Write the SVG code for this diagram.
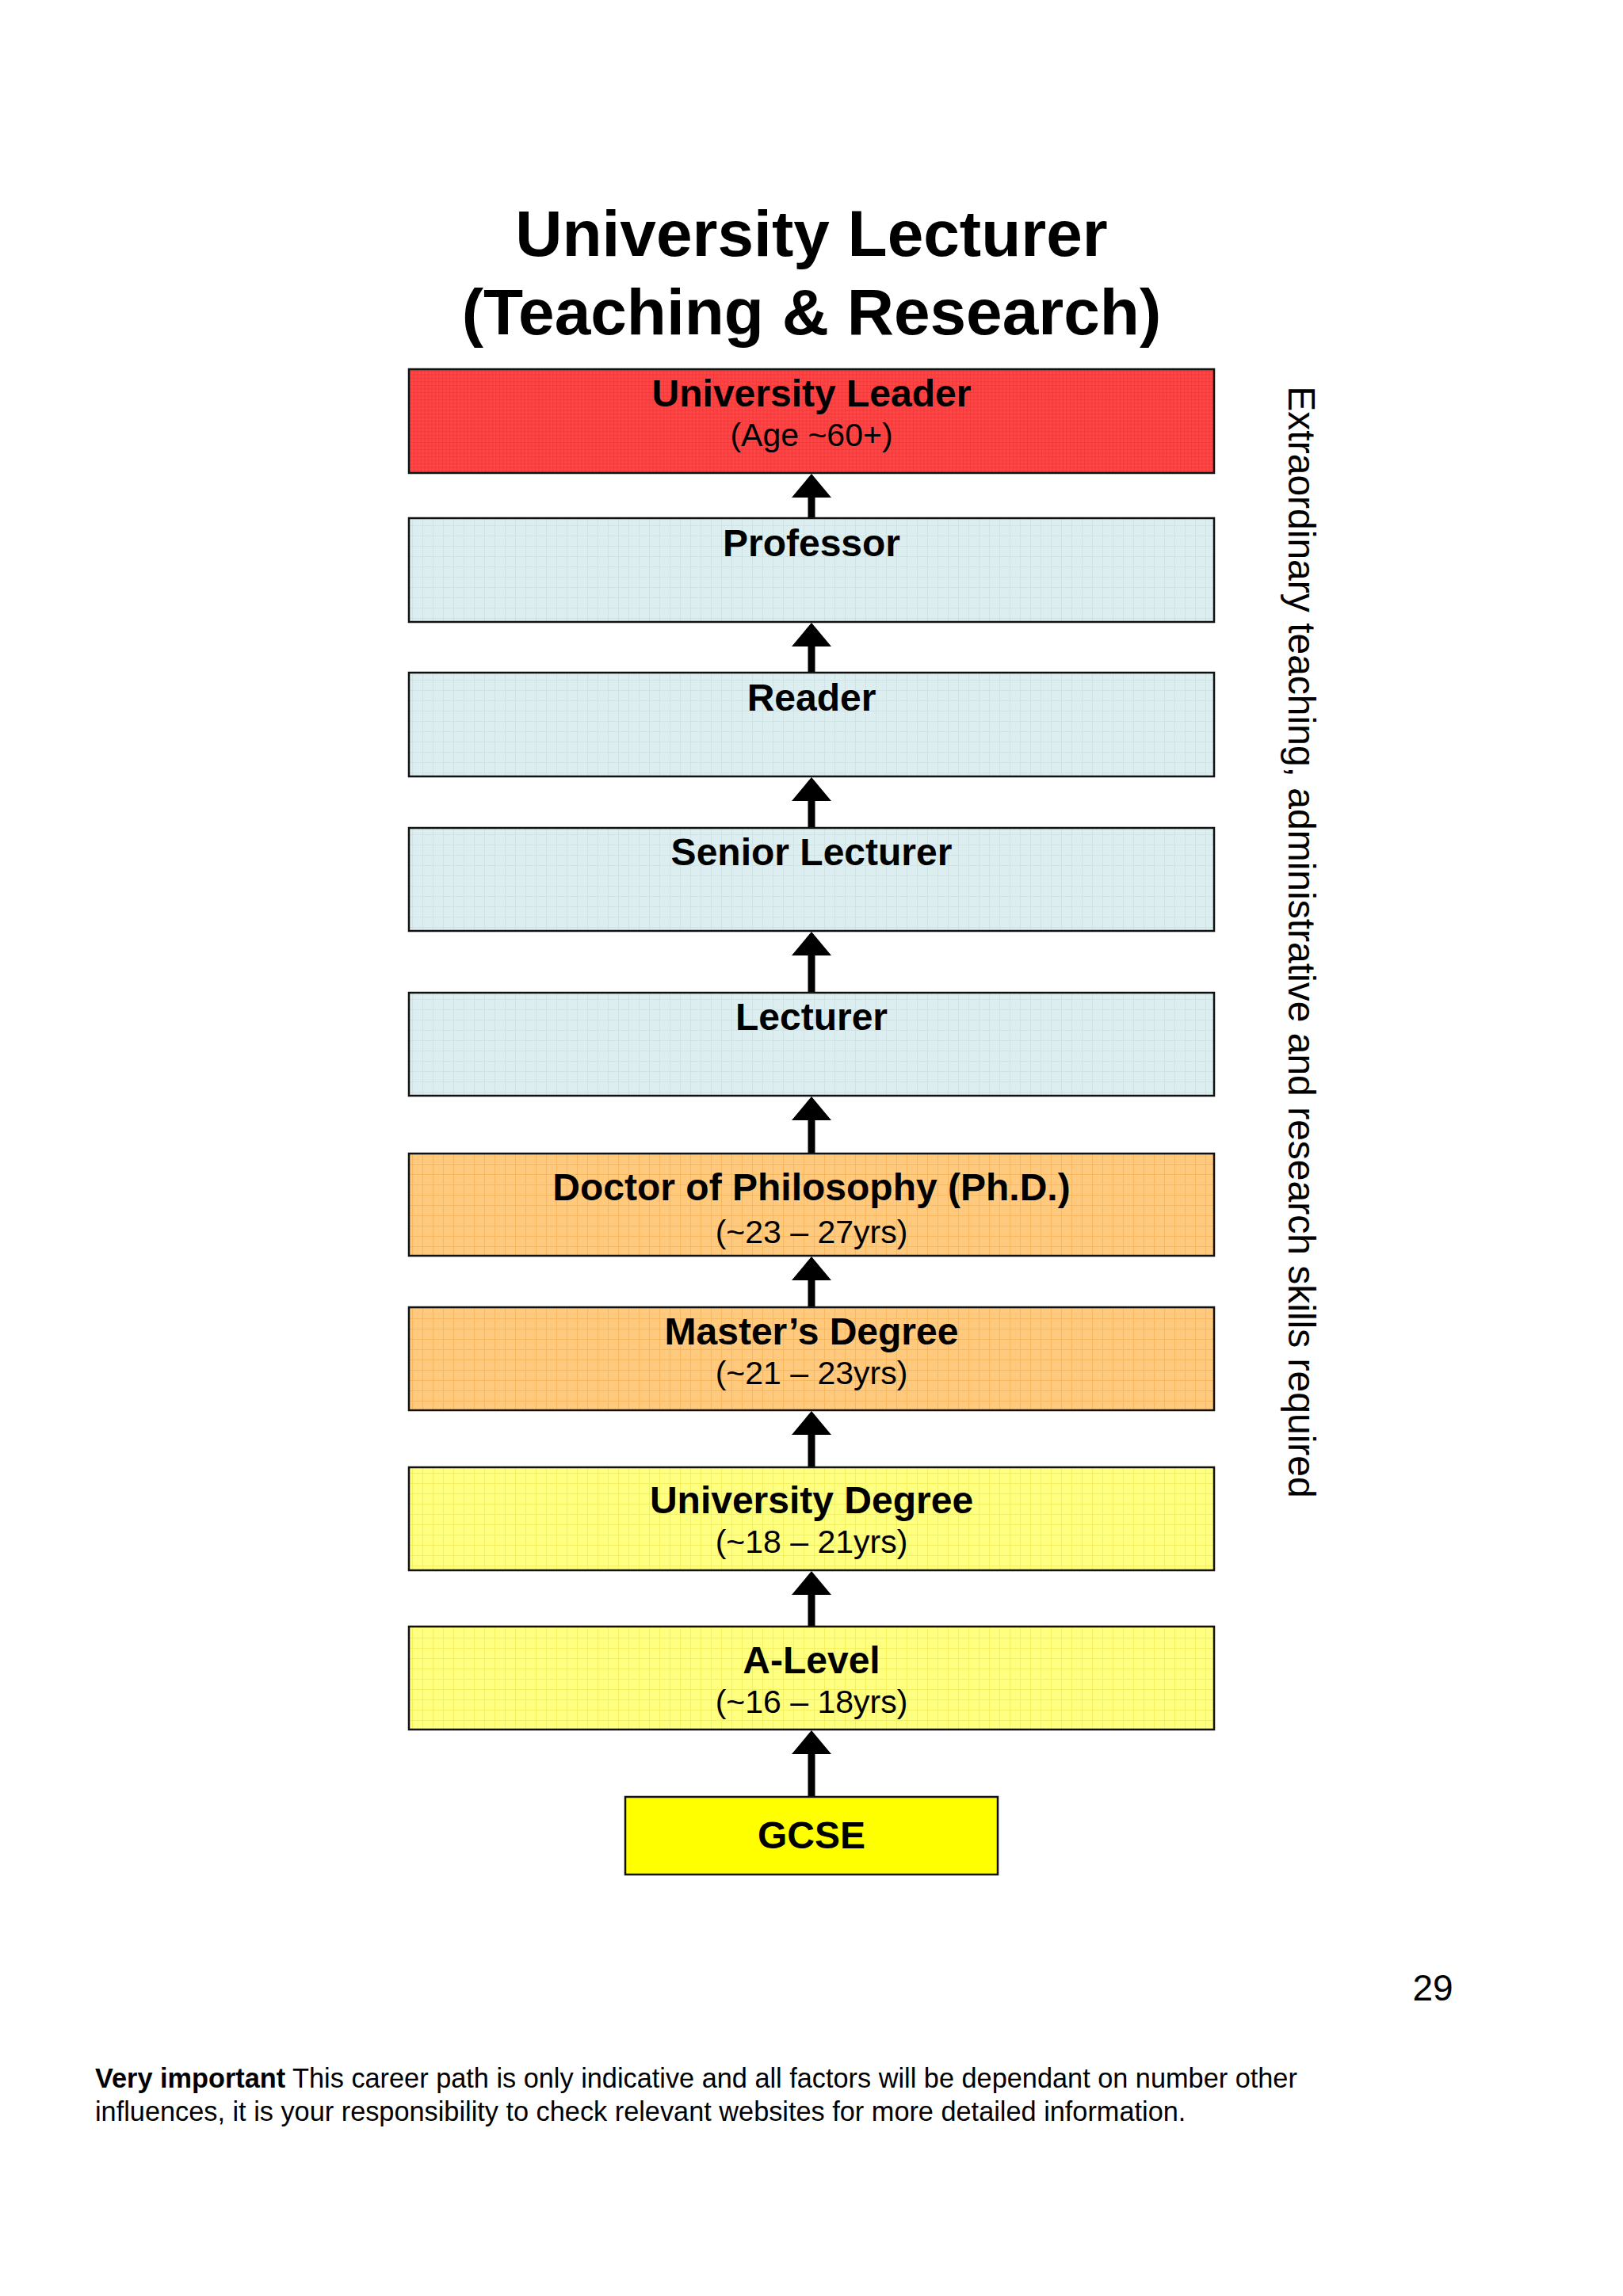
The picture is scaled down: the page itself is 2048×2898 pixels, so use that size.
<svg xmlns="http://www.w3.org/2000/svg" width="2048" height="2898" viewBox="0 0 2048 2898">
<style>
text { font-family: "Liberation Sans", Arial, sans-serif; fill: #000; }
.title { font-size: 82px; font-weight: bold; text-anchor: middle; }
.lbl { font-size: 48px; font-weight: bold; text-anchor: middle; }
.sub { font-size: 41px; text-anchor: middle; }
.box { stroke: #111; stroke-width: 2.5; }
.arrow { fill: #000; stroke: none; }
.side { font-size: 48px; text-anchor: middle; }
.page { font-size: 46px; text-anchor: middle; }
.foot { font-size: 34.3px; }
</style>
<defs>
  <pattern id="gRed" width="4.5" height="4.5" patternUnits="userSpaceOnUse">
    <rect width="4.5" height="4.5" fill="#ff4545"/>
    <path d="M0 0.5H4.5M0.5 0V4.5" stroke="#e62e2e" stroke-width="0.8" opacity="0.6"/>
  </pattern>
  <pattern id="gBlue" width="13" height="13" patternUnits="userSpaceOnUse">
    <rect width="13" height="13" fill="#dceeef"/>
    <path d="M0 0.5H13M0.5 0V13" stroke="#cfe3e5" stroke-width="1"/>
  </pattern>
  <pattern id="gOrange" width="13" height="13" patternUnits="userSpaceOnUse">
    <rect width="13" height="13" fill="#ffca7e"/>
    <path d="M0 0.5H13M0.5 0V13" stroke="#f7b860" stroke-width="1"/>
  </pattern>
  <pattern id="gYellow" width="13" height="13" patternUnits="userSpaceOnUse">
    <rect width="13" height="13" fill="#ffff80"/>
    <path d="M0 0.5H13M0.5 0V13" stroke="#f4f060" stroke-width="1"/>
  </pattern>
</defs>
<rect width="2048" height="2898" fill="#ffffff"/>

<g id="title">
  <text class="title" x="1024" y="323">University Lecturer</text>
  <text class="title" x="1024" y="422">(Teaching &amp; Research)</text>
</g>

<g id="connectors">
  <path class="arrow" d="M1024,598 L1049,628 L1028.5,628 L1028.5,654 L1019.5,654 L1019.5,628 L999,628 Z"/>
  <path class="arrow" d="M1024,786 L1049,816 L1028.5,816 L1028.5,849 L1019.5,849 L1019.5,816 L999,816 Z"/>
  <path class="arrow" d="M1024,981 L1049,1011 L1028.5,1011 L1028.5,1045 L1019.5,1045 L1019.5,1011 L999,1011 Z"/>
  <path class="arrow" d="M1024,1176 L1049,1206 L1028.5,1206 L1028.5,1253 L1019.5,1253 L1019.5,1206 L999,1206 Z"/>
  <path class="arrow" d="M1024,1384 L1049,1414 L1028.5,1414 L1028.5,1456 L1019.5,1456 L1019.5,1414 L999,1414 Z"/>
  <path class="arrow" d="M1024,1586 L1049,1616 L1028.5,1616 L1028.5,1650 L1019.5,1650 L1019.5,1616 L999,1616 Z"/>
  <path class="arrow" d="M1024,1781 L1049,1811 L1028.5,1811 L1028.5,1852 L1019.5,1852 L1019.5,1811 L999,1811 Z"/>
  <path class="arrow" d="M1024,1983 L1049,2013 L1028.5,2013 L1028.5,2053 L1019.5,2053 L1019.5,2013 L999,2013 Z"/>
  <path class="arrow" d="M1024,2184 L1049,2214 L1028.5,2214 L1028.5,2268 L1019.5,2268 L1019.5,2214 L999,2214 Z"/>
</g>

<g id="node-university-leader">
  <rect class="box" x="516" y="466" width="1016" height="131" fill="url(#gRed)"/>
  <text class="lbl" x="1024" y="513">University Leader</text>
  <text class="sub" x="1024" y="563">(Age ~60+)</text>
</g>
<g id="node-professor">
  <rect class="box" x="516" y="654" width="1016" height="131" fill="url(#gBlue)"/>
  <text class="lbl" x="1024" y="702">Professor</text>
</g>
<g id="node-reader">
  <rect class="box" x="516" y="849" width="1016" height="131" fill="url(#gBlue)"/>
  <text class="lbl" x="1024" y="897">Reader</text>
</g>
<g id="node-senior-lecturer">
  <rect class="box" x="516" y="1045" width="1016" height="130" fill="url(#gBlue)"/>
  <text class="lbl" x="1024" y="1092">Senior Lecturer</text>
</g>
<g id="node-lecturer">
  <rect class="box" x="516" y="1253" width="1016" height="130" fill="url(#gBlue)"/>
  <text class="lbl" x="1024" y="1300">Lecturer</text>
</g>
<g id="node-phd">
  <rect class="box" x="516" y="1456" width="1016" height="129" fill="url(#gOrange)"/>
  <text class="lbl" x="1024" y="1515">Doctor of Philosophy (Ph.D.)</text>
  <text class="sub" x="1024" y="1569">(~23 – 27yrs)</text>
</g>
<g id="node-masters">
  <rect class="box" x="516" y="1650" width="1016" height="130" fill="url(#gOrange)"/>
  <text class="lbl" x="1024" y="1697">Master’s Degree</text>
  <text class="sub" x="1024" y="1747">(~21 – 23yrs)</text>
</g>
<g id="node-university-degree">
  <rect class="box" x="516" y="1852" width="1016" height="130" fill="url(#gYellow)"/>
  <text class="lbl" x="1024" y="1910">University Degree</text>
  <text class="sub" x="1024" y="1960">(~18 – 21yrs)</text>
</g>
<g id="node-a-level">
  <rect class="box" x="516" y="2053" width="1016" height="130" fill="url(#gYellow)"/>
  <text class="lbl" x="1024" y="2112">A-Level</text>
  <text class="sub" x="1024" y="2162">(~16 – 18yrs)</text>
</g>
<g id="node-gcse">
  <rect class="box" x="789" y="2268" width="470" height="98" fill="#ffff00"/>
  <text class="lbl" x="1024" y="2333">GCSE</text>
</g>

<g id="side-note">
  <text class="side" transform="translate(1626,1189) rotate(90)" x="0" y="0">Extraordinary teaching, administrative and research skills required</text>
</g>

<g id="page-number">
  <text class="page" x="1808" y="2525">29</text>
</g>

<g id="footer">
  <text class="foot" x="120" y="2635"><tspan font-weight="bold">Very important</tspan> This career path is only indicative and all factors will be dependant on number other</text>
  <text class="foot" x="120" y="2677">influences, it is your responsibility to check relevant websites for more detailed information.</text>
</g>
</svg>
